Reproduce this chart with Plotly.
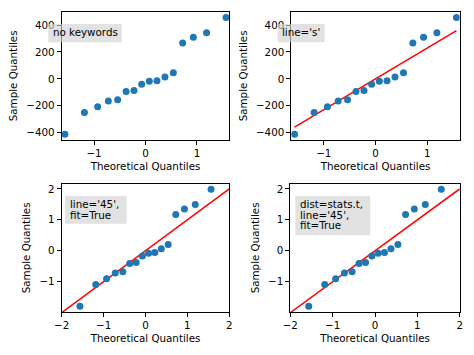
import plotly.graph_objects as go

# Theoretical normal quantiles (16 points)
theo_q = [-1.565, -1.187, -0.929, -0.722, -0.541, -0.377, -0.223, -0.074,
          0.074, 0.223, 0.377, 0.541, 0.722, 0.929, 1.187, 1.565]
# Sorted sample residuals (raw)
sample_raw = [-410.11, -249.31, -206.76, -164.05, -155.55, -94.01, -85.67, -39.06,
              -17.27, -13.18, 14.30, 46.29, 267.34, 309.71, 341.93, 455.39]
# Standardized sample quantiles (fit=True)
sample_fit = [-1.794, -1.091, -0.904, -0.718, -0.680, -0.411, -0.375, -0.171,
              -0.076, -0.058, 0.063, 0.203, 1.170, 1.355, 1.496, 1.992]
sample_fit_t = [-1.794, -1.091, -0.904, -0.718, -0.680, -0.411, -0.375, -0.171,
                -0.076, -0.058, 0.063, 0.203, 1.170, 1.355, 1.496, 1.992]
# Reference lines
s_line_x = [-1.565, 1.565]
s_line_y = [-357.8, 357.8]
line45_x = [-2, 2]
line45_y = [-2, 2]

labels = [["no keywords"], ["line='s'"], ["line='45',", "fit=True"],
          ["dist=stats.t,", "line='45',", "fit=True"]]

W, H = 474, 355
BLUE = "#1f77b4"
RED = "#ff0000"
FONT = dict(family="DejaVu Sans", size=10.3, color="black")

fig = go.Figure()

def pts(x, y, ax):
    fig.add_trace(go.Scatter(x=x, y=y, mode="markers", xaxis="x" + ax, yaxis="y" + ax,
                             marker=dict(color=BLUE, size=7, line=dict(width=0)),
                             showlegend=False, hoverinfo="skip"))

def ln(x, y, ax):
    fig.add_trace(go.Scatter(x=x, y=y, mode="lines", xaxis="x" + ax, yaxis="y" + ax,
                             line=dict(color=RED, width=1.5),
                             showlegend=False, hoverinfo="skip"))

pts(theo_q, sample_raw, "")
ln(s_line_x, s_line_y, "2")
pts(theo_q, sample_raw, "2")
ln(line45_x, line45_y, "3")
pts(theo_q, sample_fit, "3")
ln(line45_x, line45_y, "4")
pts(theo_q, sample_fit_t, "4")

def px_x(a, b):
    return [a / W, b / W]

def px_y(top, bottom):
    return [1 - bottom / H, 1 - top / H]

axis_common = dict(showline=True, mirror=True, linecolor="black", linewidth=1,
                   ticks="outside", ticklen=4, tickwidth=1, tickcolor="black",
                   showgrid=False, zeroline=False, tickfont=FONT, automargin=False)

domains = {
    "": (px_x(61.7, 229.3), px_y(11.7, 140)),
    "2": (px_x(291.3, 459.7), px_y(11.7, 140)),
    "3": (px_x(61.7, 229.3), px_y(183.7, 312)),
    "4": (px_x(290.3, 459.7), px_y(183.7, 312)),
}
xranges = {"": [-1.628, 1.628], "2": [-1.628, 1.628], "3": [-2, 2], "4": [-2, 2]}
yranges = {"": [-453.4, 498.7], "2": [-453.4, 498.7], "3": [-1.98, 2.17], "4": [-1.98, 2.17]}
xticks = {"": [-1, 0, 1], "2": [-1, 0, 1], "3": [-2, -1, 0, 1, 2], "4": [-2, -1, 0, 1, 2]}
yticks = {"": [-400, -200, 0, 200, 400], "2": [-400, -200, 0, 200, 400],
          "3": [-1, 0, 1, 2], "4": [-1, 0, 1, 2]}

def fmt(v):
    return ("\u2212" + str(abs(v))) if v < 0 else str(v)

layout = {}
for ax, (dx, dy) in domains.items():
    layout["xaxis" + ax] = dict(axis_common, domain=dx, range=xranges[ax],
                                anchor="y" + ax, tickvals=xticks[ax],
                                ticktext=[fmt(v) for v in xticks[ax]],
                                title=dict(text="Theoretical Quantiles", font=FONT, standoff=4))
    layout["yaxis" + ax] = dict(axis_common, domain=dy, range=yranges[ax],
                                anchor="x" + ax, tickvals=yticks[ax],
                                ticktext=[fmt(v) for v in yticks[ax]],
                                title=dict(text="Sample Quantiles", font=FONT, standoff=6))

fig.update_layout(**layout)

# label boxes: (box left, box top, box right, box bottom, text left, first line centre)
boxes = [(48.3, 24, 121.7, 42.3, 51.7, 32.5),
         (277.7, 24, 324.7, 42.3, 281.3, 32.5),
         (65, 196, 126.7, 223.7, 68.7, 204),
         (295.3, 196, 370.3, 235.3, 298.7, 204)]
LINE_STEP = 10.6
for (x0, y0, x1, y1, tx, ty), lines in zip(boxes, labels):
    fig.add_shape(type="rect", xref="paper", yref="paper",
                  x0=x0 / W, x1=x1 / W, y0=1 - y1 / H, y1=1 - y0 / H,
                  fillcolor="rgba(210,210,210,0.65)", line=dict(width=0), layer="above")
    for i, t in enumerate(lines):
        fig.add_annotation(x=tx / W, y=1 - (ty + i * LINE_STEP) / H, xref="paper", yref="paper",
                           xanchor="left", yanchor="middle", align="left", showarrow=False,
                           text=t, font=FONT, borderpad=0)

fig.update_layout(template="none", width=W, height=H,
                  margin=dict(l=0, r=0, t=0, b=0, autoexpand=False),
                  paper_bgcolor="white", plot_bgcolor="white",
                  font=FONT, showlegend=False)

fig.write_html("out.html", config={"displayModeBar": False},
               post_script="document.body.style.margin='0';document.body.style.overflow='hidden';")
